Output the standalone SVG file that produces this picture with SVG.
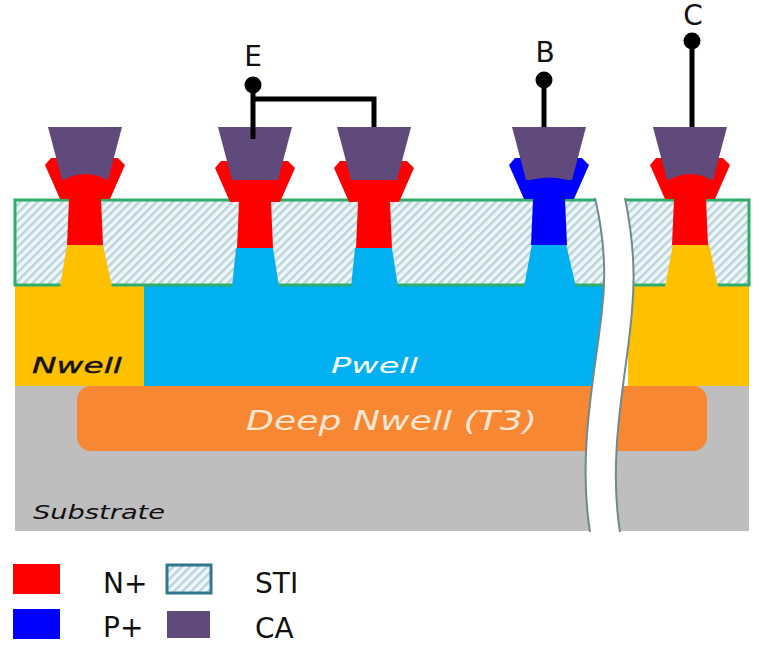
<svg xmlns="http://www.w3.org/2000/svg" xmlns:xlink="http://www.w3.org/1999/xlink" width="763" height="657" viewBox="0 0 763 657">
<style>
.ca{fill:#604A7B}
.np{fill:#FF0000}
.pp{fill:#0000FF}
.nw{fill:#FFC000}
.pw{fill:#00B0F0}
.sti{fill:url(#hatch);stroke:#2FAE6A;stroke-width:3}
.cut{fill:none;stroke:#6F8A8C;stroke-width:2}
.wire{fill:none;stroke:#000;stroke-width:5}
.t{font-family:"DejaVu Sans","Liberation Sans",sans-serif;fill:#111}
.i{font-style:italic}
.lab{font-size:28px}
</style>
<defs>
<pattern id="hatch" width="6" height="6" patternUnits="userSpaceOnUse" patternTransform="rotate(45)">
<rect width="6" height="6" fill="#EEF6F8"/>
<rect width="2.4" height="6" fill="#B9D3DA"/>
</pattern>
<path id="ntop" d="M-40 165L-34 158L-10 158L10 158L33 158L40 165L25 199L16 199L18 245L-18 245L-16 199L-25 199Z"/>
<path id="catrap" d="M-37 127H37L23 180H-23Z"/>
</defs>
<rect width="763" height="657" fill="#fff"/>
<g id="substrate"><rect x="15" y="386" width="734" height="145" fill="#BEBEBE"/></g>
<g id="deep-nwell"><rect x="77" y="386" width="630" height="65" rx="14" fill="#F78733"/></g>
<g id="wells">
<rect class="nw" x="15" y="285" width="129" height="101"/>
<rect class="pw" x="144" y="285" width="462" height="101"/>
<rect class="nw" x="628" y="285" width="121" height="101"/>
</g>
<g id="sti">
<path class="sti" d="M596 200H15V285H606V200Z"/>
<path class="sti" d="M624 200H749V285H624Z"/>
</g>
<g id="wellups">
<path class="nw" d="M67 245H103L112 287H60Z"/>
<path class="pw" d="M236 248H273L279 287H232Z"/>
<path class="pw" d="M355 248H392L398 287H351Z"/>
<path class="pw" d="M532 244H566L576 287H524Z"/>
<path class="nw" d="M673 244H709L718 287H665Z"/>
</g>
<g id="c1"><use xlink:href="#ntop" href="#ntop" class="np" x="85"/><use href="#catrap" class="ca" x="85"/><path class="np" d="M63 180Q85 168 108 180Z"/></g>
<g id="e1"><use href="#ntop" class="np" x="255" y="3"/><use href="#catrap" class="ca" x="255"/></g>
<g id="e2"><use href="#ntop" class="np" x="374" y="3"/><use href="#catrap" class="ca" x="374"/></g>
<g id="b"><use href="#ntop" class="pp" x="549"/><use href="#catrap" class="ca" x="549"/><path class="pp" d="M530 180Q549 175 568 180Z"/></g>
<g id="c2"><use href="#ntop" class="np" x="690"/><use href="#catrap" class="ca" x="690"/><path class="np" d="M668 180Q690 168 712 180Z"/></g>
<g id="break">
<path fill="#fff" d="M595 198C603 232 607 270 602 310C596 370 577 450 590 532L620 532C607 450 628 370 632 310C636 270 632 232 625 198Z"/>
<path class="cut" d="M595 198C603 232 607 270 602 310C596 370 577 450 590 532"/>
<path class="cut" d="M625 198C632 232 636 270 632 310C628 370 607 450 620 532"/>
</g>
<g id="connectors">
<path class="wire" d="M253 85V139"/>
<path class="wire" stroke-linejoin="miter" d="M253 99H374V127"/>
<path class="wire" d="M544 80V127"/>
<path class="wire" d="M692 41V127"/>
<circle cx="253" cy="85" r="8.500"/>
<circle cx="544" cy="80" r="8.500"/>
<circle cx="692" cy="41" r="8.500"/>
</g>
<g id="labels">
<text class="t lab" x="253" y="66" text-anchor="middle">E</text>
<text class="t lab" x="545" y="62" text-anchor="middle">B</text>
<text class="t lab" x="693" y="25" text-anchor="middle">C</text>
<text class="t i" x="32" y="373" font-size="22" textLength="90" lengthAdjust="spacingAndGlyphs" stroke="#111" stroke-width=".4">Nwell</text>
<text class="t i" x="331" y="373" font-size="22" textLength="87" lengthAdjust="spacingAndGlyphs" style="fill:#fff">Pwell</text>
<text class="t i" x="246" y="430" font-size="27" textLength="291" lengthAdjust="spacingAndGlyphs" style="fill:#FBE6D2">Deep Nwell (T3)</text>
<text class="t i" x="33" y="519" font-size="20" textLength="132" lengthAdjust="spacingAndGlyphs">Substrate</text>
</g>
<g id="legend">
<rect class="np" x="13" y="564" width="47" height="30"/>
<rect class="pp" x="13" y="609" width="47" height="30"/>
<rect x="167" y="565" width="44" height="28" fill="url(#hatch)" stroke="#31788C" stroke-width="3"/>
<rect class="ca" x="167" y="611" width="43" height="27"/>
<text class="t lab" x="103" y="593">N+</text>
<text class="t lab" x="103" y="637">P+</text>
<text class="t lab" x="255" y="593">STI</text>
<text class="t lab" x="255" y="638">CA</text>
</g>
</svg>
